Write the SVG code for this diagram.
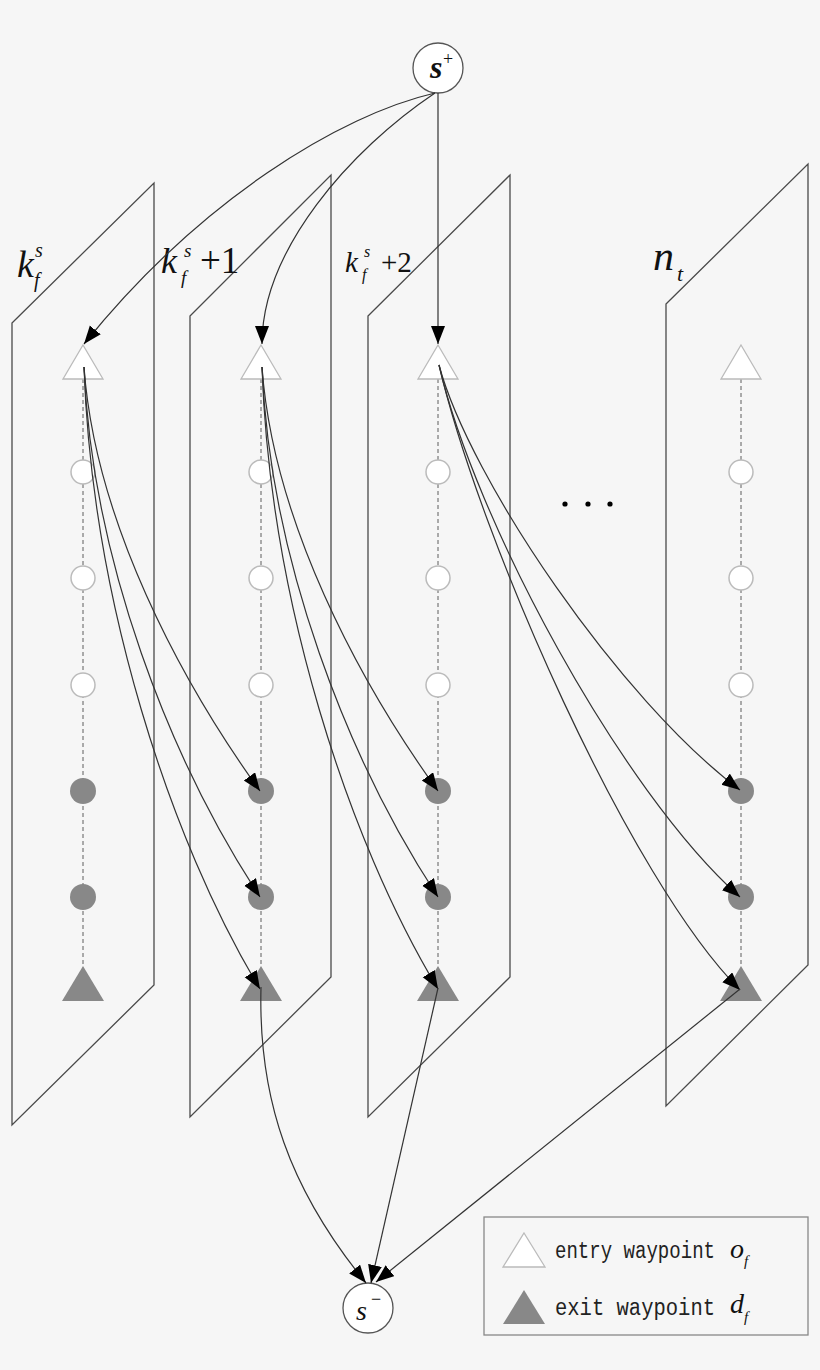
<svg xmlns="http://www.w3.org/2000/svg" width="820" height="1370" viewBox="0 0 820 1370">
<defs>
<style>
.plane{fill:none;stroke:#4a4a4a;stroke-width:1.3}
.dash{stroke:#777;stroke-width:1.2;stroke-dasharray:4 3}
.entry{fill:#fff;stroke:#bbb;stroke-width:1.3}
.wp{fill:#fff;stroke:#bbb;stroke-width:1.5}
.gw{fill:#888}
.exit{fill:#888}
.edge{fill:none;stroke:#333;stroke-width:1.2;marker-end:url(#ah)}
.it{font-family:"Liberation Serif","Times New Roman","DejaVu Serif",serif;font-style:italic;fill:#111}
.rm{font-family:"Liberation Serif","Times New Roman","DejaVu Serif",serif;fill:#111}
.mono{font-family:"Liberation Mono","Courier New",monospace;fill:#222;font-size:23px}
.term{fill:#fff;stroke:#555;stroke-width:1.3}
</style>
<marker id="ah" markerUnits="userSpaceOnUse" markerWidth="19" markerHeight="15" refX="18" refY="7" orient="auto">
<path d="M0,0 L18,7 L0,14 Z" fill="#000"/>
</marker>
</defs>
<rect width="820" height="1370" fill="#f6f6f6"/>

<g id="planes">
<polygon class="plane" points="12,323 154,183 154,985 12,1125"/>
<polygon class="plane" points="190,316 331,175 331,977 190,1117"/>
<polygon class="plane" points="368,316 510,175 510,977 368,1117"/>
<polygon class="plane" points="666,304 808,164 808,965 666,1106"/>
</g>

<g id="labels">
<text class="it" x="17" y="277" font-size="38">k</text>
<text class="it" x="35" y="257" font-size="20">s</text>
<text class="it" x="34" y="287" font-size="20">f</text>
<text class="it" x="161" y="273" font-size="36">k</text>
<text class="it" x="184" y="257" font-size="19">s</text>
<text class="it" x="181" y="284" font-size="19">f</text>
<text class="rm" x="200" y="273" font-size="37">+1</text>
<text class="it" x="345" y="272" font-size="29">k</text>
<text class="it" x="364" y="257" font-size="16">s</text>
<text class="it" x="362" y="280" font-size="16">f</text>
<text class="rm" x="381" y="272" font-size="29">+2</text>
<text class="it" x="653" y="270" font-size="42">n</text>
<text class="it" x="677" y="281" font-size="22">t</text>
<g id="ellipsis" fill="#000">
<circle cx="565" cy="504" r="2.6"/>
<circle cx="588" cy="504" r="2.6"/>
<circle cx="610" cy="504" r="2.6"/>
</g>
</g>

<g id="column-1">
<line class="dash" x1="83" y1="379" x2="83" y2="966"/>
<polygon id="entry-1" class="entry" points="83,345 103,379 63,379"/>
<circle id="wp-1-1" class="wp" cx="83" cy="472" r="12"/>
<circle id="wp-1-2" class="wp" cx="83" cy="578" r="12"/>
<circle id="wp-1-3" class="wp" cx="83" cy="685" r="12"/>
<circle id="wp-1-4" class="gw" cx="83" cy="791" r="13"/>
<circle id="wp-1-5" class="gw" cx="83" cy="897" r="13"/>
<polygon id="exit-1" class="exit" points="83,966 104,1001 62,1001"/>
</g>
<g id="column-2">
<line class="dash" x1="261" y1="379" x2="261" y2="966"/>
<polygon id="entry-2" class="entry" points="261,345 281,379 241,379"/>
<circle id="wp-2-1" class="wp" cx="261" cy="472" r="12"/>
<circle id="wp-2-2" class="wp" cx="261" cy="578" r="12"/>
<circle id="wp-2-3" class="wp" cx="261" cy="685" r="12"/>
<circle id="wp-2-4" class="gw" cx="261" cy="791" r="13"/>
<circle id="wp-2-5" class="gw" cx="261" cy="897" r="13"/>
<polygon id="exit-2" class="exit" points="261,966 282,1001 240,1001"/>
</g>
<g id="column-3">
<line class="dash" x1="438" y1="379" x2="438" y2="966"/>
<polygon id="entry-3" class="entry" points="438,345 458,379 418,379"/>
<circle id="wp-3-1" class="wp" cx="438" cy="472" r="12"/>
<circle id="wp-3-2" class="wp" cx="438" cy="578" r="12"/>
<circle id="wp-3-3" class="wp" cx="438" cy="685" r="12"/>
<circle id="wp-3-4" class="gw" cx="438" cy="791" r="13"/>
<circle id="wp-3-5" class="gw" cx="438" cy="897" r="13"/>
<polygon id="exit-3" class="exit" points="438,966 459,1001 417,1001"/>
</g>
<g id="column-4">
<line class="dash" x1="741" y1="379" x2="741" y2="966"/>
<polygon id="entry-4" class="entry" points="741,345 761,379 721,379"/>
<circle id="wp-4-1" class="wp" cx="741" cy="472" r="12"/>
<circle id="wp-4-2" class="wp" cx="741" cy="578" r="12"/>
<circle id="wp-4-3" class="wp" cx="741" cy="685" r="12"/>
<circle id="wp-4-4" class="gw" cx="741" cy="791" r="13"/>
<circle id="wp-4-5" class="gw" cx="741" cy="897" r="13"/>
<polygon id="exit-4" class="exit" points="741,966 762,1001 720,1001"/>
</g>

<g id="s-plus">
<circle class="term" cx="438" cy="68" r="25"/>
<text class="it" x="430" y="78" font-size="32" font-weight="bold">s</text>
<text class="rm" x="443" y="65" font-size="18">+</text>
</g>
<g id="s-minus">
<circle class="term" cx="368" cy="1308" r="25"/>
<text class="it" x="356" y="1320" font-size="28">s</text>
<text class="rm" x="371" y="1305" font-size="18">−</text>
</g>

<g id="connectors">
<path class="edge" d="M435,93 C340,115 200,200 84,344"/>
<path class="edge" d="M435,93 C350,150 262,250 262,344"/>
<path class="edge" d="M438,93 L438,344"/>

<path class="edge" d="M84,367 C95,520 180,680 260,791"/>
<path class="edge" d="M84,367 C92,560 170,760 260,897"/>
<path class="edge" d="M84,367 C92,600 170,840 260,989"/>

<path class="edge" d="M262,367 C273,520 358,680 438,791"/>
<path class="edge" d="M262,367 C270,560 348,760 438,897"/>
<path class="edge" d="M262,367 C270,600 348,840 438,989"/>

<path class="edge" d="M439,365 C470,480 620,700 740,790"/>
<path class="edge" d="M439,365 C475,520 620,790 740,897"/>
<path class="edge" d="M439,365 C480,540 630,880 740,990"/>

<path class="edge" d="M261,987 C258,1100 290,1190 366,1283"/>
<path class="edge" d="M438,988 L371,1283"/>
<path class="edge" d="M740,989 L376,1282"/>
</g>

<g id="legend">
<rect x="484" y="1217" width="324" height="118" fill="none" stroke="#888" stroke-width="1.3"/>
<polygon class="entry" points="524,1233 545,1267 503,1267"/>
<polygon class="exit" points="524,1290 545,1324 503,1324"/>
<text class="mono" x="555" y="1258" textLength="160" lengthAdjust="spacingAndGlyphs">entry waypoint</text>
<text class="it" x="730" y="1258" font-size="28">o<tspan font-size="15" dy="8">f</tspan></text>
<text class="mono" x="555" y="1315" textLength="160" lengthAdjust="spacingAndGlyphs">exit waypoint</text>
<text class="it" x="730" y="1313" font-size="28">d<tspan font-size="15" dy="9">f</tspan></text>
</g>
</svg>
